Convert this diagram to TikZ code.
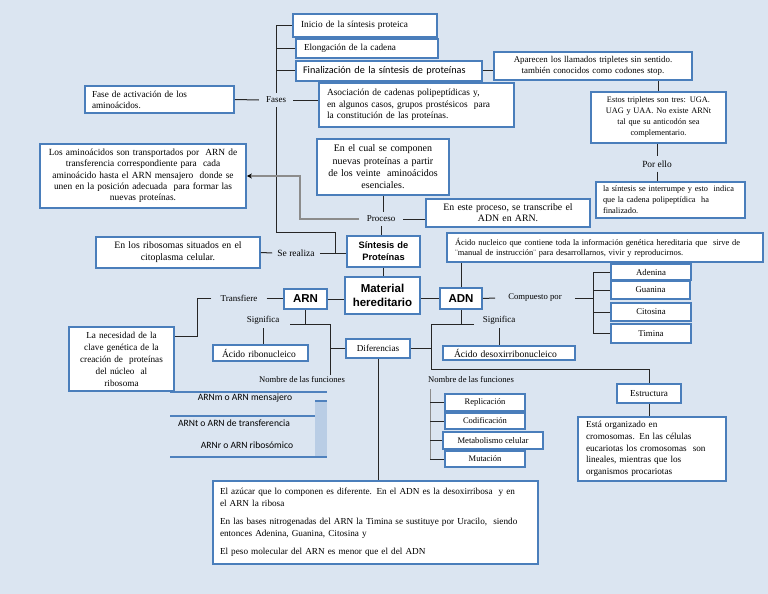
\documentclass[tikz,border=0pt]{standalone}
\usepackage{fontspec}
\setmainfont{Liberation Serif}
\newfontfamily\arialf{Liberation Sans}
\newfontfamily\calif{Carlito}
\usetikzlibrary{arrows.meta}
\definecolor{bgc}{HTML}{DBE5F1}
\definecolor{boxc}{HTML}{4A7EBB}
\definecolor{linec}{HTML}{262626}
\definecolor{grayc}{HTML}{8C8C8C}
\definecolor{tabc}{HTML}{4F81BD}
\definecolor{shadec}{HTML}{B9CDE5}
\newcommand\fs[2]{\fontsize{#1}{#2}\selectfont}
\newcommand\mybox[7][]{\node[box,minimum width={(#5-#3)*1pt},minimum height={(#6-#4)*1pt},#1] (#2) at ({(#3+#5)/2},{(#4+#6)/2}) {#7};}
\begin{document}
\begin{tikzpicture}[x=1pt,y=-1pt,
 box/.style={draw=boxc,line width=1.8pt,fill=white,inner sep=2pt,font=\fs{9.2}{10.5}},
 lbl/.style={inner sep=2pt,font=\fs{9}{10}},
 tlbl/.style={inner sep=1pt,font=\calif\fs{9.6}{10}},
 conn/.style={draw=linec,line width=1pt},
 gconn/.style={draw=grayc,line width=1pt},
 garrow/.style={draw=grayc,line width=1.2pt,-{Stealth[length=5pt,width=5pt,color=black]}}]
\useasboundingbox (0,0) rectangle (768,594);
\fill[bgc] (0,0) rectangle (768,594);

% table of ARN functions
\fill[shadec] (315,401) rectangle (327,457);
\draw[tabc,line width=1.2pt] (170,392) -- (327,392);
\draw[tabc,line width=1.2pt] (315,401) -- (327,401);
\draw[tabc,line width=1.2pt] (170,416) -- (315,416);
\draw[tabc,line width=1.2pt] (170,457) -- (327,457);
\node[tlbl] (t1) at (245,398) {ARNm o ARN mensajero};
\node[tlbl] (t2) at (234,423) {ARNt o ARN de transferencia};
\node[tlbl] (t3) at (247,445) {ARNr o ARN ribosómico};

% boxes
\mybox[text width=128pt,align=left,font=\fs{9.3}{10}]{inicio}{293}{14}{437}{37}{Inicio de la síntesis proteica}
\mybox[text width=126pt,align=left]{elong}{296}{39}{438}{58}{Elongación de la cadena}
\mybox[text width=172pt,align=left,font=\calif\fs{10.2}{11}]{final}{296}{61}{482}{81}{Finalización de la síntesis de proteínas}
\mybox[text width=179pt,align=left,font=\fs{9.4}{11.5}]{asoc}{319}{83}{514}{127}{Asociación de cadenas polipeptídicas y,\\en algunos casos, grupos prostésicos\ \ para\\la constitución de las proteínas.}
\mybox[text width=135pt,align=left,font=\fs{9.2}{11}]{fase}{85}{86}{234}{113}{Fase de activación de los\\aminoácidos.}
\mybox[text width=200pt,align=center,font=\fs{9.4}{11.3}]{losam}{40}{144}{246}{208}{Los aminoácidos son transportados por\ \ ARN de\\transferencia correspondiente para\ \ cada\\aminoácido hasta el ARN mensajero\ \ donde se\\unen en la posición adecuada\ \ para formar las\\nuevas proteínas.}
\mybox[text width=126pt,align=center,font=\fs{10}{12.4}]{encual}{317}{139}{449}{195}{En el cual se componen\\nuevas proteínas a partir\\de los veinte\ \ aminoácidos\\esenciales.}
\mybox[text width=158pt,align=center,font=\fs{9.8}{10.8}]{enproc}{426}{199}{590}{227}{En este proceso, se transcribe el\\ADN en ARN.}
\mybox[text width=68pt,align=center,font=\arialf\bfseries\fs{9.3}{12}]{sint}{347}{236}{420}{267}{Síntesis de\\Proteínas}
\mybox[text width=71pt,align=center,font=\arialf\bfseries\fs{11.5}{13.5}]{mat}{345}{277}{420}{314}{Material\\hereditario}
\mybox[font=\arialf\bfseries\fs{11.5}{12}]{arn}{284}{289}{327}{309}{ARN}
\mybox[font=\arialf\bfseries\fs{11.5}{12}]{adn}{440}{288}{482}{309}{ADN}
\mybox[text width=160pt,align=center,font=\fs{9.8}{12}]{ribos}{96}{237}{260}{268}{En los ribosomas situados en el\\citoplasma celular.}
\mybox[text width=101pt,align=center,font=\fs{9.2}{12}]{lanec}{69}{327}{174}{391}{La necesidad de la\\clave genética de la\\creación de\ \ proteínas\\del núcleo\ \ al\\ribosoma}
\mybox[text width=77pt,align=left,font=\fs{9.5}{10}]{aribo}{213}{345}{308}{361}{Ácido ribonucleico}
\mybox[font=\fs{9.2}{10}]{dif}{346}{339}{410}{358}{Diferencias}
\mybox[text width=110pt,align=left,font=\fs{9.6}{10}]{ddes}{443}{346}{575}{360}{Ácido desoxirribonucleico}
\mybox[text width=300pt,align=left,font=\fs{8.4}{10}]{acnuc}{447}{233}{763}{262}{Ácido nucleico que contiene toda la información genética hereditaria que\ \ sirve de\\¨manual de instrucción¨ para desarrollarnos, vivir y reproducirnos.}
\mybox[font=\fs{8.8}{9}]{aden}{611}{264}{691}{280}{Adenina}
\mybox[font=\fs{8.8}{9}]{guan}{611}{281}{690}{299}{Guanina}
\mybox[font=\fs{8.8}{9}]{cito}{611}{303}{691}{321}{Citosina}
\mybox[font=\fs{8.8}{9}]{timi}{611}{324}{691}{343}{Timina}
\mybox[font=\fs{8.5}{9.5}]{repl}{445}{394}{525}{411}{Replicación}
\mybox[font=\fs{8.5}{9.5}]{codi}{445}{413}{525}{429}{Codificación}
\mybox[font=\fs{8.6}{9.5}]{meta}{443}{432}{543}{449}{Metabolismo celular}
\mybox[font=\fs{8.5}{9.5}]{muta}{445}{451}{525}{467}{Mutación}
\mybox[font=\fs{9.2}{9.5}]{estr}{617}{384}{681}{403}{Estructura}
\mybox[text width=132pt,align=left,font=\fs{9.2}{11.7}]{esta}{578}{417}{726}{481}{Está organizado en\\cromosomas. En las células\\eucariotas los cromosomas\ \ son\\lineales, mientras que los\\organismos procariotas}
\mybox[text width=184pt,align=center,font=\fs{8.9}{11.5}]{apar}{494}{52}{692}{80}{Aparecen los llamados tripletes sin sentido.\\también conocidos como codones stop.}
\mybox[text width=127pt,align=center,font=\fs{8.3}{11}]{estos}{591}{92}{726}{143}{Estos tripletes son tres: UGA.\\UAG y UAA. No existe ARNt\\tal que su anticodón sea\\complementario.}
\mybox[text width=135pt,align=left,font=\fs{8.3}{11}]{lasint}{596}{182}{745}{218}{la síntesis se interrumpe y esto\ \ indica\\que la cadena polipeptídica\ \ ha\\finalizado.}
\mybox[text width=311pt,align=left,font=\fs{9.2}{12}]{big}{213}{481}{538}{564}{El azúcar que lo componen es diferente. En el ADN es la desoxirribosa\ \ y en\\el ARN la ribosa\\[6pt]En las bases nitrogenadas del ARN la Timina se sustituye por Uracilo,\ \ siendo\\entonces Adenina, Guanina, Citosina y\\[6pt]El peso molecular del ARN es menor que el del ADN}

% labels
\node[lbl,inner xsep=7pt,inner ysep=4pt] (fases) at (276,100) {Fases};
\node[lbl,inner xsep=8pt,inner ysep=4pt] (proceso) at (381,219) {Proceso};
\node[lbl,inner xsep=5pt,font=\fs{9.5}{10}] (serea) at (296,253) {Se realiza};
\node[lbl,inner xsep=9pt] (transf) at (239,298) {Transfiere};
\node[lbl,inner ysep=4pt] (asig) at (263,320) {Significa};
\node[lbl,inner ysep=4pt] (dsig) at (499,320) {Significa};
\node[lbl,inner xsep=13pt,font=\fs{8.7}{10}] (comp) at (535,298) {Compuesto por};
\node[lbl,inner ysep=4pt,font=\fs{9.4}{10}] (porello) at (657,164) {Por ello};
\node[lbl,font=\fs{8.6}{10}] (anom) at (302,380) {Nombre de las funciones};
\node[lbl,font=\fs{8.6}{10}] (dnom) at (471,380) {Nombre de las funciones};

% connectors
\draw[conn] (fases |- inicio.west) -- (fases.north);
\draw[conn] (fases |- inicio.west) -- (inicio.west);
\draw[conn] (fases |- elong.west) -- (elong.west);
\draw[conn] (fases |- final.west) -- (final.west);
\coordinate (tb) at (335,232);
\draw[conn] (fases.south) |- (tb) -- (tb |- serea.east);
\draw[conn] (fase.east) -- (fases.west);
\draw[conn] (fases.east) -- (fases.east -| asoc.west);
\draw[conn] (final.east) -- (final.east -| apar.west);
\draw[conn] (estos.north) -- (estos.north |- apar.south);
\draw[conn] (porello.north |- estos.south) -- (porello.north);
\draw[conn] (porello.south) -- (porello.south |- lasint.north);
\draw[conn] (encual.south) -- (encual.south |- proceso.north);
\draw[conn] (proceso.south) -- (proceso.south |- sint.north);
\draw[conn] (proceso.east) -- (proceso.east -| enproc.west);
\coordinate (gb) at (300,219);
\draw[garrow] (proceso.west) -- (gb) |- (losam.east);
\draw[conn] (sint.south) -- (sint.south |- mat.north);
\draw[conn] (ribos.east) -- (serea.west);
\draw[conn] (serea.east) -- (serea.east -| sint.west);
\draw[conn] (arn.east) -- (arn.east -| mat.west);
\draw[conn] (adn.west) -- (adn.west -| mat.east);
\draw[conn] (transf.east) -- (transf.east -| arn.west);
\coordinate (tf) at (197,336);
\draw[conn] (transf.west) -| (tf) -- (tf -| lanec.east);
\coordinate (a0) at (290,324);
\coordinate (a2) at (330,324);
\draw[conn] (arn.south) -- (arn.south |- a0);
\draw[conn] (a0) -- (a2) -- (a2 |- anom.north);
\draw[conn] (dif.west) -- (dif.west -| a2);
\draw[conn] (asig.south) -- (asig.south |- aribo.north);
\coordinate (d0) at (431,324);
\coordinate (d1) at (474,324);
\coordinate (d3) at (431,369);
\draw[conn] (adn.south) -- (adn.south |- d0);
\draw[conn] (d1) -- (d0) -- (d3) -| (estr.north);
\draw[conn] (dif.east) -- (dif.east -| d0);
\draw[conn] (dsig.south) -- (dsig.south |- ddes.north);
\draw[conn] (adn.north) -- (adn.north |- acnuc.south);
\draw[conn] (adn.east) -- (comp.west);
\coordinate (cp) at (593,298);
\draw[conn] (comp.east) -- (cp);
\draw[conn] (aden.west -| cp) -- (timi.west -| cp);
\draw[conn] (aden.west) -- (aden.west -| cp);
\draw[conn] (guan.west) -- (guan.west -| cp);
\draw[conn] (cito.west) -- (cito.west -| cp);
\draw[conn] (timi.west) -- (timi.west -| cp);
\coordinate (fb) at (430,389);
\draw[gconn] (fb) -- (fb |- muta.west);
\draw[conn] (repl.west) -- (repl.west -| fb);
\draw[conn] (codi.west) -- (codi.west -| fb);
\draw[conn] (meta.west) -- (meta.west -| fb);
\draw[conn] (muta.west) -- (muta.west -| fb);
\draw[conn] (dif.south) -- (dif.south |- big.north);
\draw[conn] (estr.south) -- (estr.south |- esta.north);
\end{tikzpicture}
\end{document}
